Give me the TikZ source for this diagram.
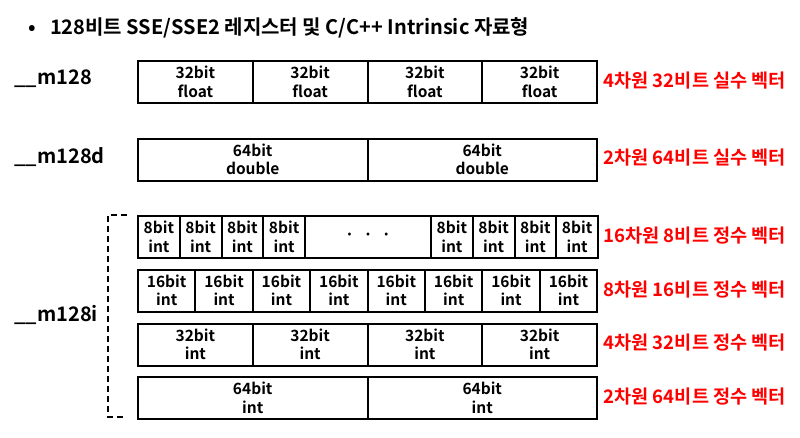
\documentclass[tikz,border=0pt]{standalone}
\usepackage{fontspec}
\setmainfont{Noto Sans CJK KR}[BoldFont={* Bold}]
\begin{document}
\begin{tikzpicture}[x=1pt,y=-1pt,
  cell/.style={draw=black,line width=2pt,anchor=north west,inner sep=0pt,
    align=center,font=\fontsize{15.5}{18.5}\selectfont\bfseries},
  lbl/.style={anchor=west,font=\fontsize{20}{22}\selectfont\bfseries},
  vec/.style={anchor=west,text=red,font=\fontsize{18.6}{22}\selectfont\bfseries},
  brk/.style={line width=1.8pt,dash pattern=on 6pt off 4pt}]
\useasboundingbox (0,0) rectangle (800,437);
\node[anchor=west,font=\fontsize{20}{24}\selectfont\bfseries] (title) at (25,28) {\textbullet\hspace{14pt}128비트 SSE/SSE2 레지스터 및 C/C++ Intrinsic 자료형};
% labels
\node[lbl] (l1) at (11,79) {\_\_m128};
\node[lbl] (l2) at (11,157) {\_\_m128d};
\node[lbl] (l3) at (11,315) {\_\_m128i};
% row 1: 4 x 32bit float
\foreach \i in {0,...,3}
  \node[cell,minimum width=114.75pt,minimum height=42pt] (a\i) at ({137+114.75*\i},60) {32bit\\float};
% row 2: 2 x 64bit double
\foreach \i in {0,1}
  \node[cell,minimum width=229.5pt,minimum height=42pt] (b\i) at ({137+229.5*\i},137.5) {64bit\\double};
% row 3: 8bit int
\foreach \i in {0,...,3}
  \node[cell,minimum width=41.75pt,minimum height=42pt] (c\i) at ({137+41.75*\i},215) {8bit\\int};
\node[cell,minimum width=126pt,minimum height=42pt,font=\fontsize{16}{18}\selectfont\bfseries] (cdots) at (304,215) {·\hspace{9pt}·\hspace{9pt}·};
\foreach \i in {0,...,3}
  \node[cell,minimum width=41.75pt,minimum height=42pt] (d\i) at ({430+41.75*\i},215) {8bit\\int};
% row 4: 16bit int
\foreach \i in {0,...,7}
  \node[cell,minimum width=57.4pt,minimum height=42pt] (e\i) at ({137+57.4*\i},268.5) {16bit\\int};
% row 5: 32bit int
\foreach \i in {0,...,3}
  \node[cell,minimum width=114.75pt,minimum height=42pt] (f\i) at ({137+114.75*\i},322.5) {32bit\\int};
% row 6: 64bit int
\foreach \i in {0,1}
  \node[cell,minimum width=229.5pt,minimum height=42pt] (g\i) at ({137+229.5*\i},376) {64bit\\int};
% vector labels
\node[vec] (v1) at (600,81) {4차원 32비트 실수 벡터};
\node[vec] (v2) at (600,158) {2차원 64비트 실수 벡터};
\node[vec] (v3) at (600,236) {16차원 8비트 정수 벡터};
\node[vec] (v4) at (600,290) {8차원 16비트 정수 벡터};
\node[vec] (v5) at (600,343) {4차원 32비트 정수 벡터};
\node[vec] (v6) at (600,397) {2차원 64비트 정수 벡터};
% dashed bracket
\coordinate (bt) at (127,215);
\coordinate (bb) at (126,417);
\draw[brk] (bt) -- (108,215) -- (108,417) -- (bb);
\end{tikzpicture}
\end{document}
